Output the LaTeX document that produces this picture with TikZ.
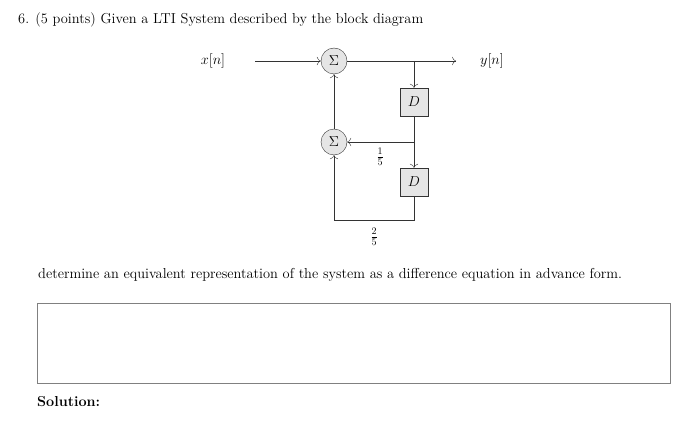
\documentclass[tikz,border=0pt]{standalone}
\usetikzlibrary{arrows.meta}
\begin{document}
\begin{tikzpicture}[x=1pt,y=-1pt,
  every node/.style={font=\fontsize{14.4}{17}\selectfont},
  sumnode/.style={circle,draw=black!80,fill=gray!20,minimum size=26pt,inner sep=0pt},
  delay/.style={draw=black!80,fill=gray!20,minimum size=28pt,inner sep=0pt},
  arr/.style={draw=black!80,-{To[length=4pt]}},
  txt/.style={anchor=west,inner sep=0pt}]
\useasboundingbox (0,0) rectangle (700,422);
\node[txt] (title) at (18,20) {6. (5 points) Given a LTI System described by the block diagram};
\node (x) at (213,61) {$x[n]$};
\node (y) at (492,61) {$y[n]$};
\coordinate (in) at (255,61);
\coordinate (out) at (456,61);
\node[sumnode] (s1) at (334,61) {$\Sigma$};
\node[sumnode] (s2) at (334,142) {$\Sigma$};
\node[delay] (d1) at (414,102) {$D$};
\node[delay] (d2) at (414,182) {$D$};
\coordinate (b1) at (414,61);
\coordinate (b2) at (414,142);
\coordinate (c1) at (414,220);
\coordinate (c2) at (334,220);
\draw[arr] (in) -- (s1);
\draw[arr] (s1) -- (out);
\draw[arr] (b1) -- (d1);
\draw[arr] (d1) -- (d2);
\draw[arr] (b2) -- (s2);
\draw[arr] (s2) -- (s1);
\draw[arr] (d2) -- (c1) -- (c2) -- (s2);
\node (k1) at (380,157) {$\frac{1}{5}$};
\node (k2) at (374,237) {$\frac{2}{5}$};
\node[txt] (q) at (38,275) {determine an equivalent representation of the system as a difference equation in advance form.};
\node[draw=gray,line width=0.8pt,minimum width=633pt,minimum height=80pt,anchor=north west] (box) at (37,303) {};
\node[txt,font=\fontsize{14.4}{17}\selectfont\bfseries] (sol) at (37,402) {Solution:};
\end{tikzpicture}
\end{document}
